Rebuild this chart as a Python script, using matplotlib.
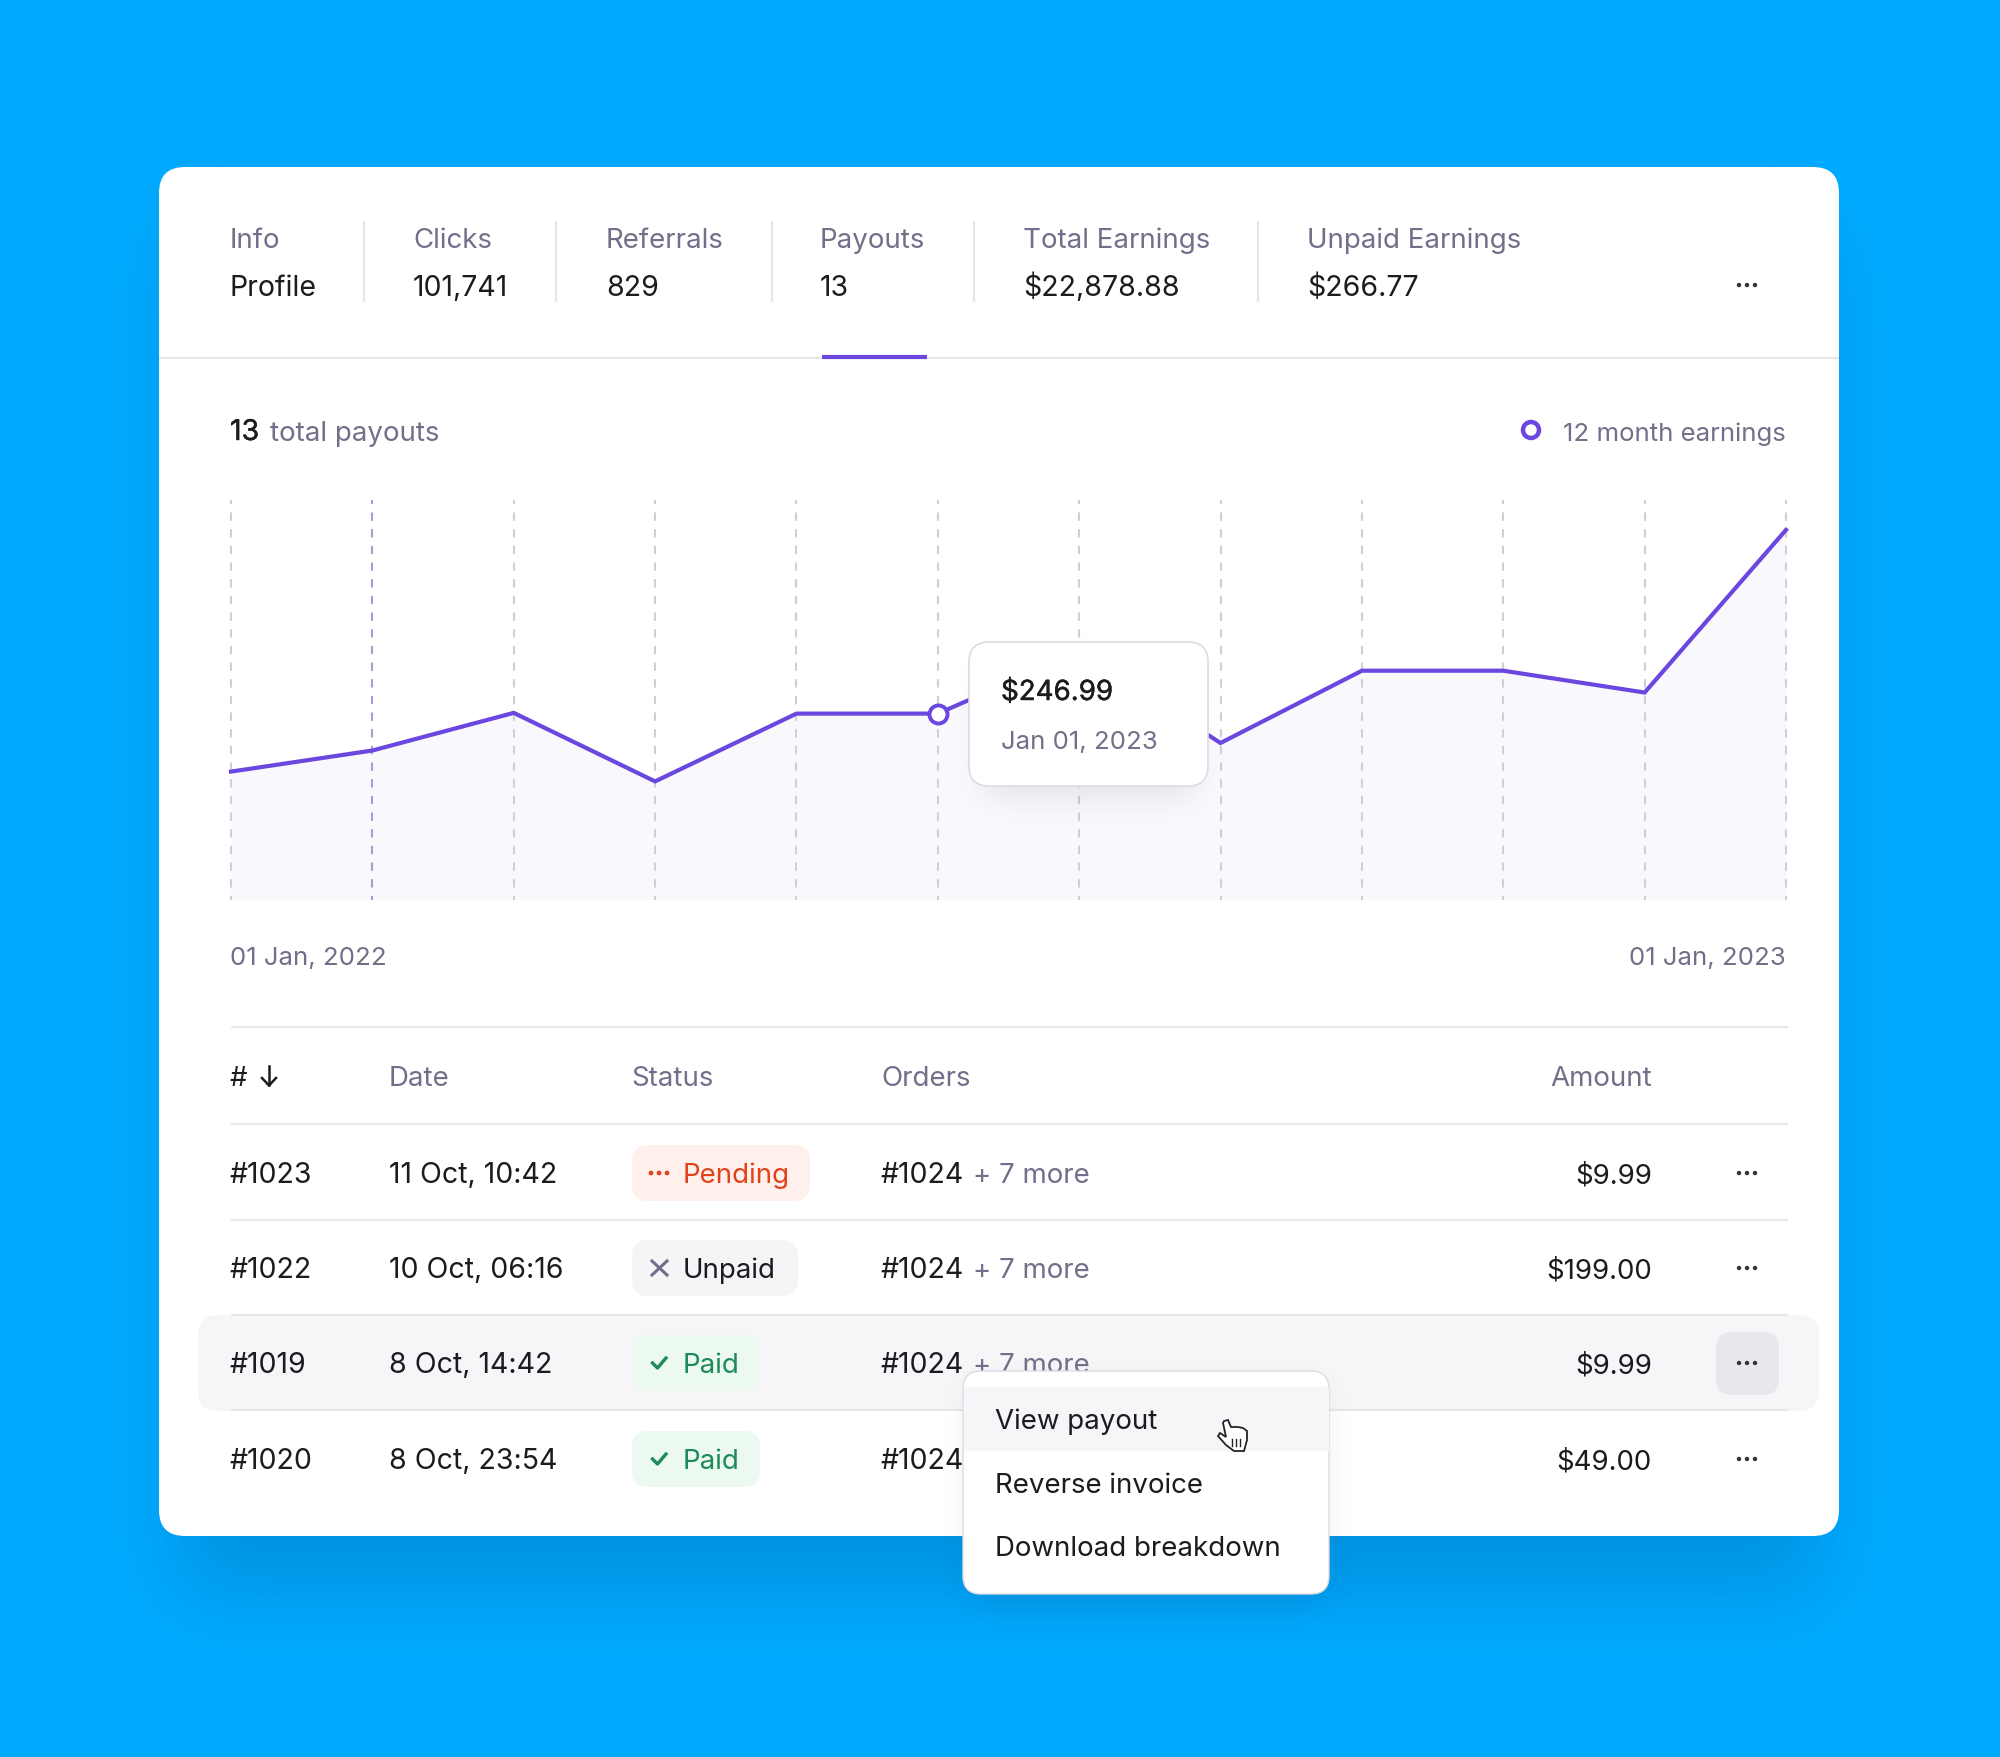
import matplotlib
matplotlib.use('Agg')
import matplotlib.pyplot as plt
import matplotlib.patheffects as pe
import numpy as np
from matplotlib.patches import FancyBboxPatch, Circle, Polygon

plt.rcParams['font.family'] = ['Inter', 'DejaVu Sans']

# Colours
BG = '#00aaff'
INK = '#1b1b20'
GRAY = '#70708a'
LINE = '#e7e7ea'
PURPLE = '#6b47e0'

# Stats row
stat_labels = ['Info', 'Clicks', 'Referrals', 'Payouts', 'Total Earnings', 'Unpaid Earnings']
stat_values = ['Profile', '101,741', '829', '13', '$22,878.88', '$266.77']

# Chart data, 12 months
month_index = list(range(12))
earnings = [170, 198, 248, 157, 247, 247, 329, 208, 304, 304, 275, 491]
hover_month = 5
date_labels = ['01 Jan, 2022', '01 Jan, 2023']

# Table
headers = ['Date', 'Status', 'Orders', 'Amount']
row_ids = ['#1023', '#1022', '#1019', '#1020']
row_dates = ['11 Oct, 10:42', '10 Oct, 06:16', '8 Oct, 14:42', '8 Oct, 23:54']
row_status = ['Pending', 'Unpaid', 'Paid', 'Paid']
row_orders = ['#1024', '#1024', '#1024', '#1024']
row_more = ['+ 7 more', '+ 7 more', '+ 7 more', '+ 7 more']
row_amounts = ['$9.99', '$199.00', '$9.99', '$49.00']
menu_items = ['View payout', 'Reverse invoice', 'Download breakdown']

W, H = 2000, 1758
FS = 27.7 * 0.72  # main text in px at dpi 100
FS_NUM = 28.5 * 0.72  # ids and dates run a little wider
FS_SMALL = 25.8 * 0.72

fig = plt.figure(figsize=(W / 100, H / 100), dpi=100, facecolor=BG)


def pixel_axes(z):
    a = fig.add_axes([0, 0, 1, 1], zorder=z)
    a.set_xlim(0, W)
    a.set_ylim(H, 0)
    a.axis('off')
    a.patch.set_alpha(0)
    return a


base = pixel_axes(1)
top = pixel_axes(3)


def smooth(size, lo, hi, sigma):
    xs = np.arange(size)
    k = np.exp(-0.5 * (np.arange(-4 * sigma, 4 * sigma + 1) / sigma) ** 2)
    k = k / k.sum()
    m = ((xs >= lo) & (xs <= hi)).astype(float)
    return np.convolve(np.pad(m, len(k)), k, 'same')[len(k):-len(k)]


def shadow(a, x0, x1, y0, y1, sigma, alpha, z):
    arr = np.zeros((H, W, 4))
    arr[..., 0:3] = (0.0, 0.05, 0.2)
    arr[..., 3] = np.outer(smooth(H, y0, y1, sigma), smooth(W, x0, x1, sigma)) * alpha
    a.imshow(arr, extent=(0, W, H, 0), aspect='auto', zorder=z, interpolation='bilinear')
    a.set_xlim(0, W)
    a.set_ylim(H, 0)


def rbox(a, x0, y0, x1, y1, r, fc, ec='none', lw=0, z=2):
    p = FancyBboxPatch((x0, y0), x1 - x0, y1 - y0, boxstyle=f'round,pad=0,rounding_size={r}',
                       fc=fc, ec=ec, lw=lw, zorder=z)
    a.add_patch(p)
    return p


def txt(a, x, y, s, color=INK, ha='left', z=5, size=FS, heavy=False):
    t = a.text(x, y, s, color=color, ha=ha, va='baseline', fontsize=size, zorder=z)
    if heavy:
        t.set_path_effects([pe.withStroke(linewidth=0.3, foreground=color)])
    return t


def hline(a, x0, x1, y, color=LINE, lw=1.6, z=3):
    a.plot([x0, x1], [y, y], color=color, lw=lw, solid_capstyle='butt', zorder=z)


def dots(a, cx, cy, color='#33333a', spread=8, r=2.2, z=6):
    for dx in (-spread, 0, spread):
        a.add_patch(Circle((cx + dx, cy), r, fc=color, ec='none', zorder=z))


# Card
shadow(base, 178, 1820, 230, 1592, 42, 0.15, 1)
rbox(base, 159, 168, 1839, 1537, 26, 'white', z=2)

# Stats
stat_x = [230, 413, 606, 820, 1023, 1307]
for x, lab, val in zip(stat_x, stat_labels, stat_values):
    txt(base, x, 248, lab, GRAY)
    txt(base, x, 296, val, size=FS_NUM)
for x in [364, 556, 772, 974, 1258]:
    base.plot([x, x], [223, 302], color=LINE, lw=1.5, zorder=3)
dots(base, 1747, 286)
hline(base, 159, 1839, 358.5)
hline(base, 822, 927, 357.5, color=PURPLE, lw=3, z=4)

# Chart header
txt(base, 230, 441, '13', size=FS_NUM, heavy=True)
txt(base, 270, 441, 'total payouts', GRAY)
txt(base, 1786, 441, '12 month earnings', GRAY, ha='right', size=FS_SMALL)
base.add_patch(Circle((1531, 431), 8, fc='white', ec=PURPLE, lw=3.2, zorder=5))

# Chart
ax = fig.add_axes([231 / W, 1 - 900.6 / H, 1555 / W, 399.6 / H], zorder=2)
ax.set_xlim(0, 11)
ax.set_ylim(0, 530.7)
ax.axis('off')
ax.patch.set_alpha(0)
ax.fill_between(month_index, earnings, 0, color='#f9f8fd', lw=0, zorder=1)
grid_colors = ['#a89bdc' if m == 1 else '#cfcfd6' for m in month_index]
ax.vlines(month_index, 0, 530.7, colors=grid_colors, lw=1.5, linestyles=[(2, (4, 4))], zorder=2, clip_on=False)
ax.plot(month_index, earnings, color=PURPLE, lw=3.0, zorder=3, clip_on=False, solid_joinstyle='miter')
ax.plot(month_index[hover_month], earnings[hover_month], 'o', ms=13, mfc='white', mec=PURPLE, mew=2.8, zorder=4)

txt(base, 230, 965, date_labels[0], GRAY, size=FS_SMALL)
txt(base, 1786, 965, date_labels[1], GRAY, ha='right', size=FS_SMALL)

# Tooltip
shadow(top, 985, 1192, 665, 795, 16, 0.10, 1)
rbox(top, 969, 643, 1208, 787, 20, 'white', ec='#dcdce1', lw=1.2, z=2)
txt(top, 1001, 701, '$246.99', heavy=True)
txt(top, 1001, 749, 'Jan 01, 2023', GRAY, size=FS_SMALL)

# Table
for y in [1028, 1125, 1221]:
    hline(base, 231, 1788, y)
txt(base, 230, 1086, '#')
base.plot([269, 269], [1067, 1086], color=INK, lw=1.8, zorder=5)
base.plot([262, 269, 276], [1079, 1086.5, 1079], color=INK, lw=1.8, zorder=5)
header_x = [389, 631, 881]
for x, h in zip(header_x, headers[:3]):
    txt(base, x, 1086, h, GRAY)
txt(base, 1652, 1086, headers[3], GRAY, ha='right')

# Hovered row sits under the text
rbox(base, 198, 1316, 1819, 1412, 20, '#f6f6f8', z=2.5)
hline(base, 231, 1788, 1316)
hline(base, 231, 1788, 1411)
rbox(base, 1716, 1333, 1779, 1396, 16, '#e8e8ec', z=3)

badge_style = {
    'Pending': ('#fff0eb', '#e2421b', 810),
    'Unpaid': ('#f5f5f7', INK, 798),
    'Paid': ('#ebf9f1', '#1f8a58', 760),
}
row_y = [1174, 1269, 1364, 1460]
for i, cy in enumerate(row_y):
    st = row_status[i]
    fc, tc, right = badge_style[st]
    rbox(base, 632, cy - 28, right, cy + 28, 16, fc, z=3)
    if st == 'Pending':
        dots(base, 659, cy, color=tc, spread=8, r=2.4)
    elif st == 'Unpaid':
        base.plot([652, 667], [cy - 7, cy + 7], color=GRAY, lw=2.2, zorder=5)
        base.plot([652, 667], [cy + 7, cy - 7], color=GRAY, lw=2.2, zorder=5)
    else:
        base.plot([652.5, 657.5, 666], [cy, cy + 5, cy - 5], color=tc, lw=2.4, zorder=5)
    base_y = cy + 9.5
    txt(base, 230, base_y, row_ids[i], size=FS_NUM)
    txt(base, 389, base_y, row_dates[i], size=FS_NUM)
    txt(base, 683, base_y, st, tc)
    txt(base, 881, base_y, row_orders[i], size=FS_NUM)
    txt(base, 973, base_y, row_more[i], GRAY)
    txt(base, 1652, base_y, row_amounts[i], ha='right')
    dots(base, 1747, cy)

# Dropdown menu
shadow(top, 975, 1318, 1395, 1600, 18, 0.12, 1)
rbox(top, 963, 1372, 1329, 1595, 18, 'white', ec='#dcdce1', lw=1, z=2)
top.fill_between([963.5, 1328.5], 1388, 1452, color='#f6f6f8', lw=0, zorder=3)
for label, y in zip(menu_items, [1429.5, 1493.5, 1556.5]):
    txt(top, 995, y, label)

# Hand cursor
hand = [(1224, 1422), (1228, 1421), (1231, 1428), (1238, 1428), (1243, 1429), (1247, 1432),
        (1247, 1441), (1244, 1452), (1234, 1452), (1226, 1446), (1218, 1437), (1220, 1434),
        (1226, 1438), (1223, 1424)]
top.add_patch(Polygon(hand, closed=True, fc='white', ec='#222228', lw=1.3, zorder=6))
for x in [1232, 1236, 1240]:
    top.plot([x, x], [1440, 1447], color='#222228', lw=1, zorder=7)

fig.savefig('out.png', dpi=100, facecolor=BG)
